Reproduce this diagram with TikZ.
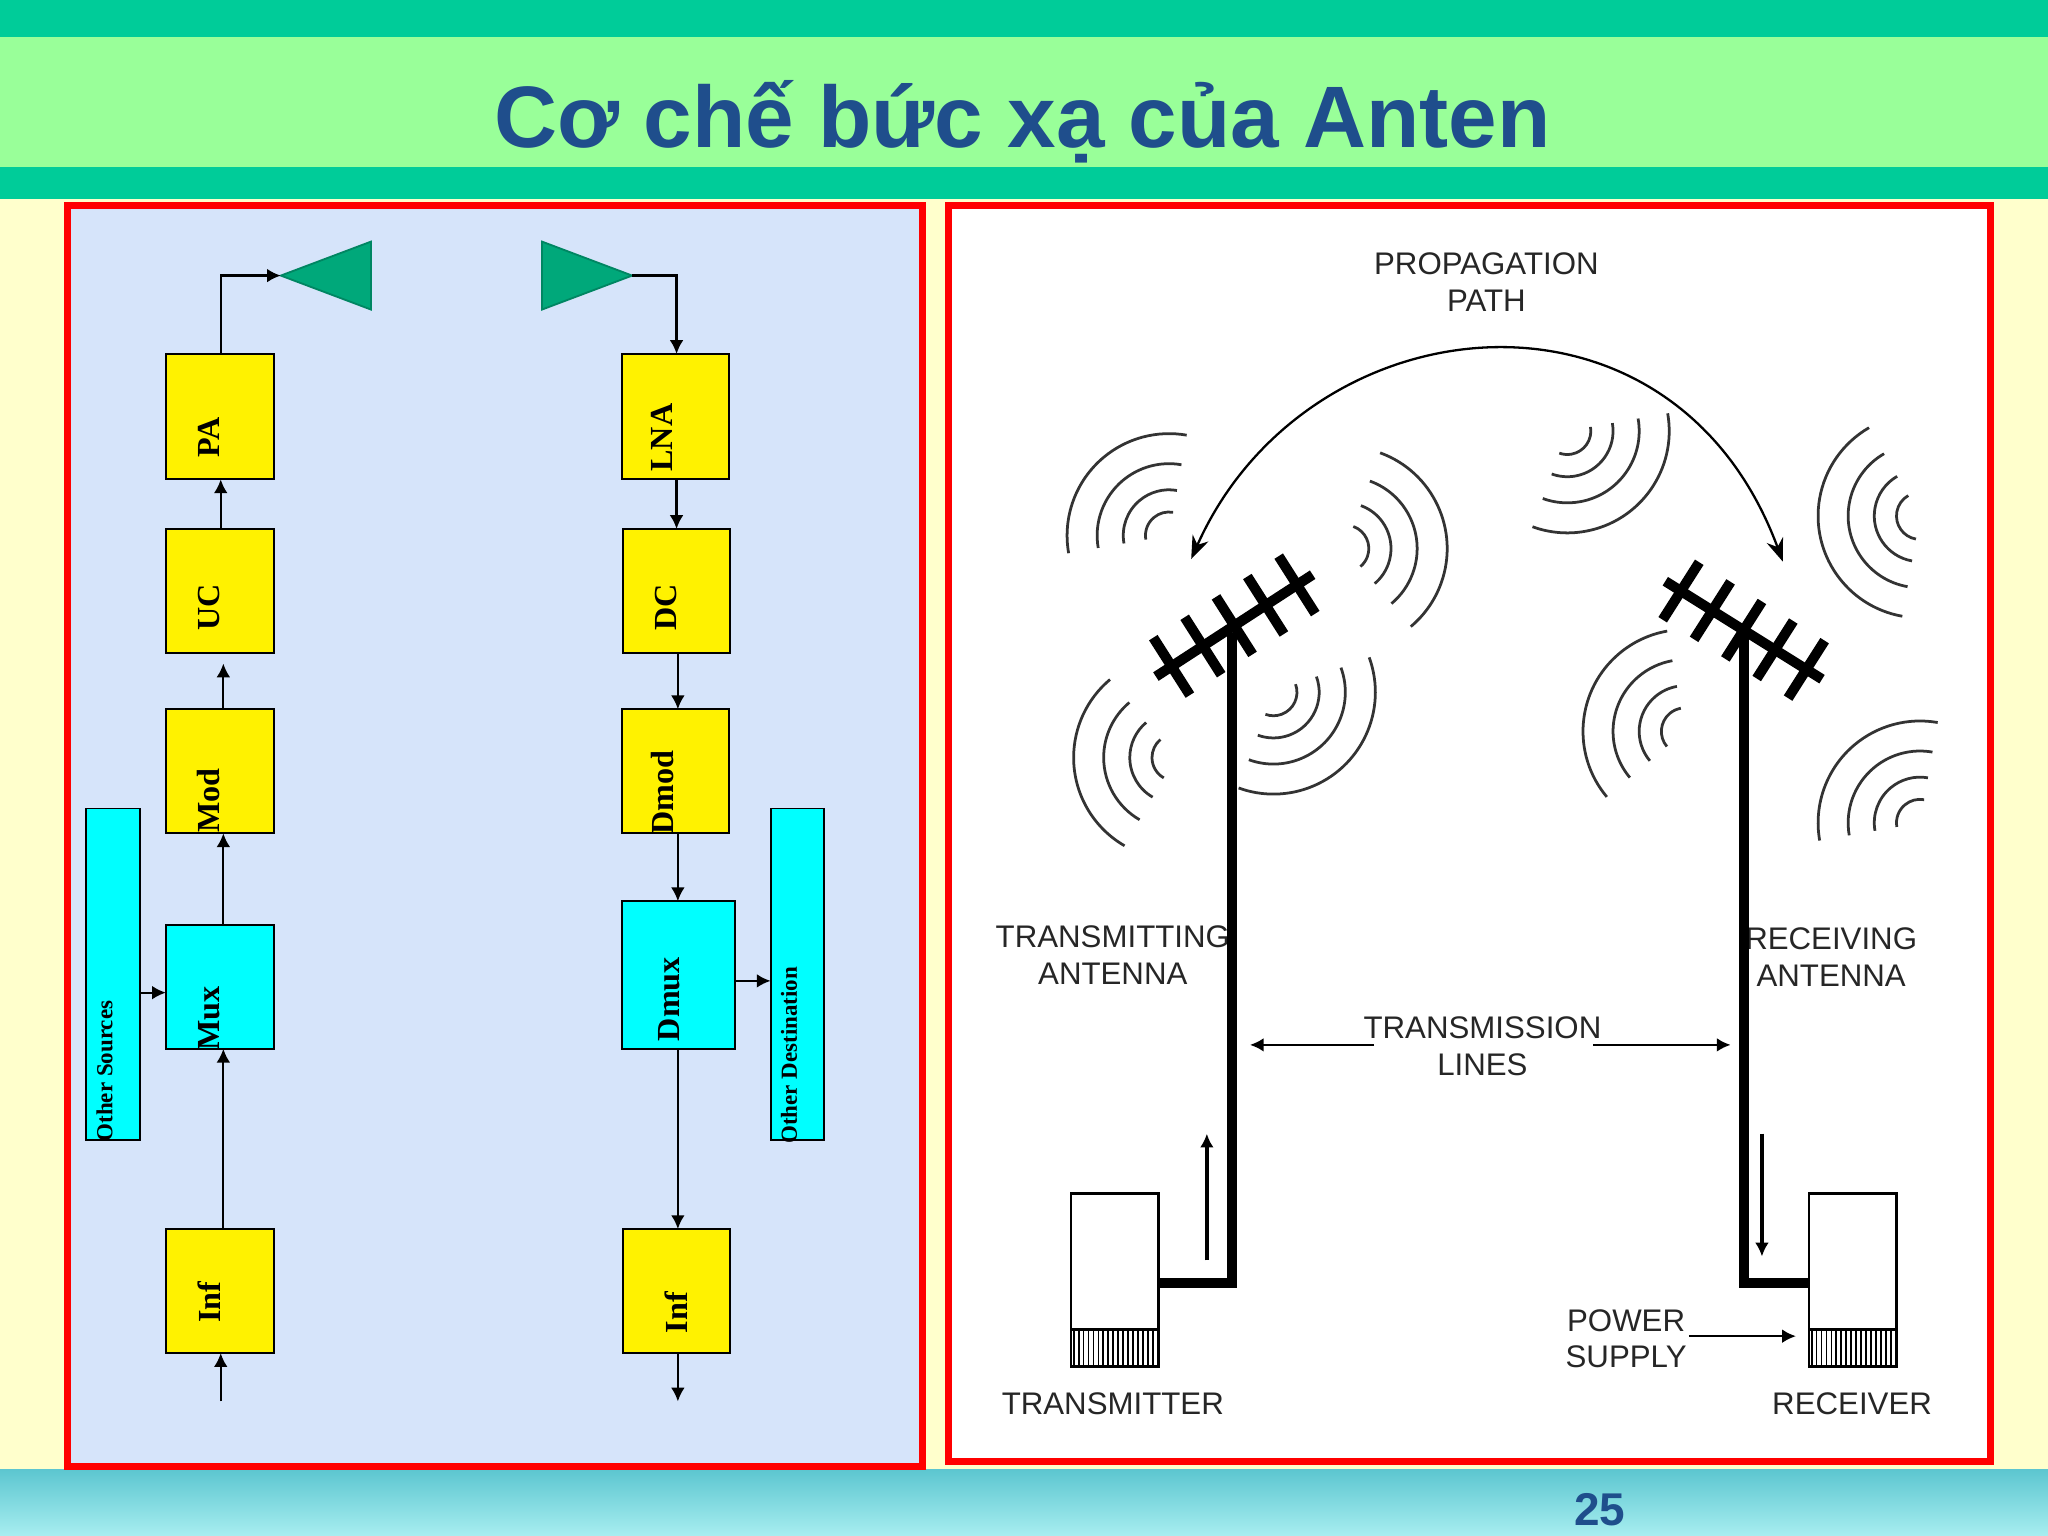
\documentclass[tikz,border=0pt]{standalone}
\usepackage{fontspec}
\setmainfont{Liberation Serif}
\setsansfont{Liberation Sans}
\usetikzlibrary{calc,arrows.meta}
\definecolor{teal1}{HTML}{00CC99}
\definecolor{lgreen}{HTML}{99FF99}
\definecolor{lyel}{HTML}{FFFFCC}
\definecolor{lblue}{HTML}{D6E4FA}
\definecolor{tblue}{HTML}{1F4E8C}
\definecolor{tri}{HTML}{00A87A}
\definecolor{cyb0}{HTML}{00FFFF}
\definecolor{bandA}{HTML}{5CC6D0}
\definecolor{bandB}{HTML}{A8EEF0}
\begin{document}
\begin{tikzpicture}[x=0.01cm,y=-0.01cm,
 blk/.style={draw=black,fill=yellow,line width=0.4pt},
 cyb/.style={draw=black,fill=cyb0,line width=0.4pt},
 lbl/.style={rotate=90,font=\fontsize{7}{8}\selectfont\bfseries},
 arr/.style={-{Latex[length=3pt,width=3pt]},line width=0.5pt},
 rt/.style={font=\sffamily\fontsize{6.8}{8}\selectfont,align=center,text=black!85},
 wv/.style={line width=0.6pt,black!80}]
\useasboundingbox (0,0) rectangle (1568,1176);
\fill[lyel] (0,0) rectangle (1568,1176);
\fill[teal1] (0,0) rectangle (1568,28);
\fill[lgreen] (0,28) rectangle (1568,128);
\fill[teal1] (0,128) rectangle (1568,152);
\node[font=\sffamily\bfseries\fontsize{19}{22}\selectfont,text=tblue] (title) at (783,93) {Cơ chế bức xạ của Anten};
\shade[top color=bandA,bottom color=bandB] (0,1125) rectangle (1568,1176);
\node[font=\sffamily\bfseries\fontsize{10}{12}\selectfont,text=tblue] (pg) at (1225,1156) {25};
% panels
\draw[red,line width=1.5pt,fill=lblue] (52,157) rectangle (706,1123);
\draw[red,line width=1.5pt,fill=white] (726,157) rectangle (1524,1119);
% TX column
\draw[blk] (127,271) rectangle (210,367); \node[lbl] (pa) at (160,335) {PA};
\coordinate (paT) at (169,271); \coordinate (paB) at (169,367);
\draw[blk] (127,405) rectangle (210,500); \node[lbl] (uc) at (160,465) {UC};
\coordinate (ucT) at (169,405); \coordinate (ucB) at (169,500);
\draw[blk] (127,543) rectangle (210,638); \node[lbl] (mod) at (160,613) {Mod};
\coordinate (modT) at (171,543); \coordinate (modB) at (171,638);
\draw[cyb] (127,708) rectangle (210,803); \node[lbl] (mux) at (160,780) {Mux};
\coordinate (muxT) at (171,708); \coordinate (muxB) at (171,803); \coordinate (muxL) at (127,760);
\draw[blk] (127,941) rectangle (210,1036); \node[lbl] (inf1) at (160,997) {Inf};
\coordinate (inf1T) at (171,941); \coordinate (inf1B) at (169,1036);
\draw[cyb] (66,619) rectangle (107,873); \node[lbl,font=\fontsize{5}{6}\selectfont\bfseries] (os) at (80,820) {Other Sources};
\coordinate (osR) at (107,760);
\draw[tri!80!black,fill=tri] (215,211) -- (284,185) -- (284,237) -- cycle;
\coordinate (txtip) at (215,211);
\coordinate (in1) at (169,1073);
\draw[arr] (in1) -- (inf1B);
\draw[arr] (inf1T) -- (muxB);
\draw[arr] (osR) -- (muxL);
\draw[arr] (muxT) -- (modB);
\draw[arr] (modT) -- (171,508);
\draw[arr] (ucT) -- (paB);
\draw[arr] (paT) |- (txtip);
% RX column
\draw[tri!80!black,fill=tri] (484,211) -- (415,185) -- (415,237) -- cycle;
\coordinate (rxtip) at (484,211);
\draw[blk] (476,271) rectangle (558,367); \node[lbl] (lna) at (507,335) {LNA};
\draw[blk] (477,405) rectangle (559,500); \node[lbl] (dc) at (510,465) {DC};
\draw[blk] (476,543) rectangle (558,638); \node[lbl] (dmod) at (507,607) {Dmod};
\draw[cyb] (476,690) rectangle (563,803); \node[lbl] (dmux) at (512,765) {Dmux};
\draw[blk] (477,941) rectangle (559,1036); \node[lbl] (inf2) at (518,1005) {Inf};
\draw[cyb] (590,619) rectangle (631,873); \node[lbl,font=\fontsize{5}{6}\selectfont\bfseries] (od) at (604,808) {Other Destination};
\draw[arr] (rxtip) -- (518,211) -- (518,271);
\draw[arr] (518,367) -- (518,405);
\draw[arr] (519,500) -- (519,543);
\draw[arr] (519,638) -- (519,690);
\draw[arr] (563,751) -- (590,751);
\draw[arr] (519,803) -- (519,941);
\draw[arr] (519,1036) -- (519,1073);
% RIGHT panel
\node[rt] (prop) at (1138,216) {PROPAGATION\\PATH};
\node[rt] (txa) at (852,731) {TRANSMITTING\\ANTENNA};
\node[rt] (rxa) at (1402,733) {RECEIVING\\ANTENNA};
\node[rt] (tl) at (1135,801) {TRANSMISSION\\LINES};
\node[rt] (ps) at (1245,1025) {POWER\\SUPPLY};
\node[rt] (txr) at (852,1075) {TRANSMITTER};
\node[rt] (rxr) at (1418,1075) {RECEIVER};
\draw[{Stealth[length=5pt]}-{Stealth[length=5pt]},line width=0.5pt] (912,428) .. controls (1000,230) and (1280,200) .. (1365,430);
\draw[arr] (1052,800) -- (957,800);
\draw[arr] (1220,800) -- (1325,800);
\draw[arr] (1293,1023) -- (1375,1023);
% masts
\draw[line width=2.2pt] (943,485) -- (943,982) -- (887,982);
\draw[line width=2.2pt] (1335,485) -- (1335,982) -- (1385,982);
\draw[arr,line width=1pt] (924,965) -- (924,868);
\draw[arr,line width=1pt] (1349,868) -- (1349,962);
% boxes
\draw[line width=0.6pt] (820,914) rectangle (887,1018);
\draw[line width=0.6pt] (820,1018) rectangle (887,1046);
\foreach \i in {0,...,16} \draw[line width=0.4pt] ({822+\i*3.8},1018) -- ({822+\i*3.8},1046);
\draw[line width=0.6pt] (1385,914) rectangle (1452,1018);
\draw[line width=0.6pt] (1385,1018) rectangle (1452,1046);
\foreach \i in {0,...,16} \draw[line width=0.4pt] ({1387+\i*3.8},1018) -- ({1387+\i*3.8},1046);
% yagis
\draw[line width=2.2pt] (885,518) -- (1005,440);
\foreach \t in {0.1,0.3,0.5,0.7,0.9}
  \draw[line width=2.2pt] ($(885,518)!\t!(1005,440)+(-14,-22)$) -- ++(28,44);
\draw[line width=2.2pt] (1275,445) -- (1395,520);
\foreach \t in {0.1,0.3,0.5,0.7,0.9}
  \draw[line width=2.2pt] ($(1275,445)!\t!(1395,520)+(14,-22)$) -- ++(-28,44);
% waves
\foreach \r in {18,35,55,78} {
 \draw[wv] (895,410) ++(170:\r) arc (170:280:\r);
 \draw[wv] (1030,420) ++(-70:\r) arc (-70:50:\r);
 \draw[wv] (900,580) ++(120:\r) arc (120:230:\r);
 \draw[wv] (975,530) ++(-20:\r) arc (-20:110:\r);
 \draw[wv] (1200,330) ++(-10:\r) arc (-10:110:\r);
 \draw[wv] (1470,395) ++(100:\r) arc (100:240:\r);
 \draw[wv] (1290,560) ++(140:\r) arc (140:260:\r);
 \draw[wv] (1470,630) ++(170:\r) arc (170:280:\r);
}
\end{tikzpicture}
\end{document}
